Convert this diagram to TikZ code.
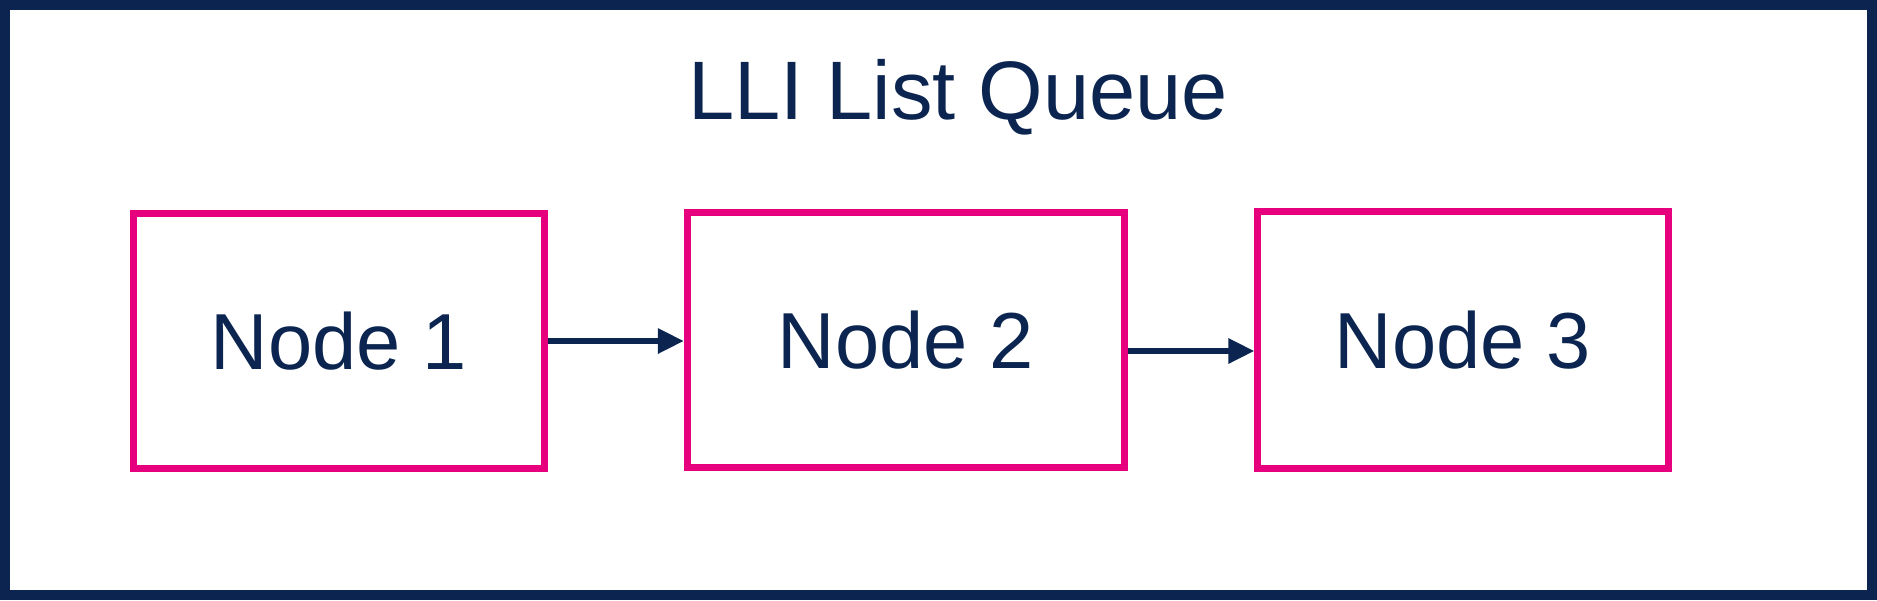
\documentclass[tikz,border=0pt]{standalone}
\usepackage{fontspec}
\setmainfont{Liberation Sans}
\usetikzlibrary{arrows.meta}
\definecolor{navy}{HTML}{0B2550}
\definecolor{magenta}{HTML}{E6007E}
\tikzset{
  qnode/.style={draw=magenta, line width=0.07cm, text=navy, font=\fontsize{22.6}{26}\selectfont,
    minimum width=4.1cm, minimum height=2.55cm},
  link/.style={-{Triangle[length=0.26cm,width=0.24cm]}, draw=navy, line width=0.06cm}
}
\begin{document}
\begin{tikzpicture}[x=0.01cm,y=-0.01cm]
\useasboundingbox (0,0) rectangle (1877,600);
\draw[navy, line width=0.1cm] (5,5) rectangle (1872,595);
\node[text=navy, font=\fontsize{23.6}{28}\selectfont] (title) at (958,97) {LLI List Queue};
%
\draw (339,341) node[qnode, text depth=0pt](node1){Node 1};
\draw (906,340) node[qnode, minimum width=4.37cm, minimum height=2.54cm](node2){\raisebox{-0.2cm}{Node 2}};
\draw (1463,340) node[qnode, minimum height=2.57cm](node3){\raisebox{-0.25cm}{Node 3}};
%
\draw[link] (node1.east |- 0,341) -- (node2.west |- 0,341);
\draw[link] (node2.east |- 0,351) -- (node3.west |- 0,351);
\end{tikzpicture}
\end{document}
